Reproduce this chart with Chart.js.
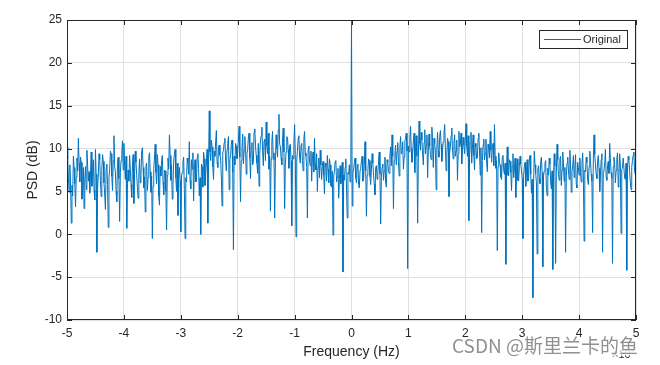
<!DOCTYPE html>
<html><head><meta charset="utf-8">
<script src="https://cdn.jsdelivr.net/npm/chart.js@4.4.1/dist/chart.umd.min.js"></script>
<style>html,body{margin:0;padding:0;background:#fff}canvas{display:block}</style>
</head><body>
<canvas id="c" width="660" height="365"></canvas>
<script>
// Frequency axis (units of 10^4 Hz), sample spacing of the PSD estimate
const freqStart = -5;
const freqStep = 0.0125;
const xTickValues = [-5, -4, -3, -2, -1, 0, 1, 2, 3, 4, 5];
const yTickValues = [-10, -5, 0, 5, 10, 15, 20, 25];
const seriesLabel = 'Original';
const xTitle = 'Frequency (Hz)';
const yTitle = 'PSD (dB)';
const xExponent = '4';
const watermark = 'CSDN @斯里兰卡的鱼';

// PSD values (dB), one band per unit of frequency
const psdBandM5 = [10.2,8.8,6.5,4.9,8.1,6.0,1.3,5.7,4.5,9.1,7.8,5.9,3.2,6.7,8.9,7.4,11.2,8.3,6.1,9.0,
  8.4,4.1,5.5,7.8,3.0,6.4,7.9,5.2,9.8,8.0,6.2,7.3,4.8,6.9,9.6,5.6,7.1,8.7,5.2,4.0,
  9.9,7.0,-2.1,5.3,6.8,9.4,8.7,6.3,4.4,7.6,9.3,8.5,6.0,4.7,2.9,7.7,8.2,5.8,0.8,6.6,
  7.6,9.7,9.4,6.8,5.1,8.6,11.5,7.9,7.3,5.0,3.8,8.4,9.0,6.5,1.5,7.2,8.6,9.3,10.9,7.5];
const psdBandM4 = [10.6,8.2,6.4,9.1,0.7,5.9,7.5,6.2,9.2,7.7,5.8,4.3,8.0,9.3,3.6,7.0,9.7,8.4,6.9,5.5,
  4.2,7.1,8.8,6.0,7.0,9.6,10.1,7.8,5.4,6.7,2.6,8.0,8.3,5.1,6.6,9.0,9.5,7.3,4.9,6.8,
  -0.5,5.6,7.7,8.9,10.5,7.2,5.9,9.3,8.1,4.5,3.4,7.9,6.8,8.6,9.2,6.1,4.6,7.5,7.4,5.0,
  0.5,6.9,8.9,7.6,11.6,9.2,6.3,8.1,4.1,5.7,8.5,9.4,9.9,6.6,5.0,8.3,2.2,7.0,7.8,6.3];
const psdBandM3 = [0.3,6.8,7.2,8.5,9.0,5.2,-0.5,6.6,6.1,8.9,8.4,7.0,10.8,6.3,5.3,8.7,7.6,9.5,3.9,7.4,
  8.7,6.1,6.2,9.0,9.4,7.7,4.5,6.6,0.0,8.2,7.9,5.5,9.6,8.8,5.7,7.3,8.3,9.9,1.3,8.0,
  14.4,9.6,8.6,11.0,10.2,7.9,6.4,9.7,9.1,10.8,12.1,8.4,7.8,10.1,10.4,9.2,8.9,6.8,3.3,9.5,
  9.8,10.7,11.2,8.5,7.4,9.9,10.6,11.4,5.2,8.7,9.3,10.5,11.0,7.2,-1.8,9.1,8.1,10.6,10.3,8.8];
const psdBandM2 = [9.5,11.1,12.6,9.0,3.8,8.6,10.1,11.7,8.2,9.8,11.4,10.0,7.0,9.4,9.9,11.3,11.8,8.9,6.5,10.2,
  10.7,8.1,8.4,11.9,12.3,10.4,9.2,8.3,7.1,10.6,5.6,9.3,10.9,11.5,12.5,9.7,8.0,10.9,11.1,8.6,
  13.1,10.3,9.4,11.8,7.6,9.1,2.7,8.8,10.8,12.0,8.7,9.5,1.9,8.4,11.6,10.1,9.0,12.2,14.0,10.5,
  10.2,8.9,8.1,11.0,12.4,9.6,3.0,8.2,9.6,11.4,11.3,9.9,7.7,10.3,10.5,8.6,1.0,9.2,8.8,10.7];
const psdBandM1 = [12.8,9.3,-0.3,8.7,9.7,11.2,11.5,9.0,8.3,10.4,10.6,8.6,7.4,11.1,12.0,9.5,9.1,7.8,1.9,9.9,
  10.3,8.4,8.0,9.7,6.2,8.8,9.6,7.3,11.2,8.2,7.5,9.4,5.0,7.8,8.9,6.6,9.8,8.1,6.4,7.9,
  8.5,6.9,4.7,8.3,7.9,6.2,9.2,7.6,6.0,8.8,8.1,5.7,5.5,7.4,-0.1,6.8,7.3,8.5,8.6,6.1,
  6.7,7.7,4.2,6.5,8.0,5.9,7.1,8.4,-4.4,6.9,6.3,7.8,8.8,5.4,1.9,7.2,7.0,8.1,6.1,7.5];
const psdDC = [25];
const psdBandP0 = [3.3,7.1,7.6,8.4,8.9,6.6,6.0,7.9,8.2,5.8,5.4,7.5,7.7,8.6,9.1,6.2,6.5,8.0,10.8,7.4,
  2.1,6.9,7.3,8.8,8.6,6.7,5.8,7.6,9.4,8.3,6.9,5.9,4.6,7.8,8.0,6.4,7.2,8.5,9.6,7.0,
  1.2,6.6,7.8,8.2,6.3,7.4,9.0,6.1,5.5,8.7,8.4,7.3,7.1,9.2,10.2,8.0,11.6,9.1,3.0,8.6,
  9.3,10.4,8.1,9.6,10.7,8.5,6.8,10.1,11.4,9.4,9.5,10.8,7.6,9.0,10.9,11.2,11.8,9.7,-4.0,10.3];
const psdBandP1 = [9.6,11.3,12.6,10.0,8.4,9.5,10.9,11.8,7.2,10.2,11.5,9.1,1.3,8.9,13.2,10.6,9.8,11.9,11.0,9.3,
  8.1,10.7,12.2,9.4,10.4,11.6,6.6,9.8,11.7,10.3,9.3,8.7,12.5,10.9,7.8,11.2,10.6,9.5,5.2,10.0,
  11.9,9.7,9.0,11.4,12.1,10.5,8.5,9.9,10.8,11.7,12.8,10.1,7.4,9.2,11.2,10.8,4.4,9.6,10.1,11.5,
  12.4,9.8,8.8,10.6,11.6,9.1,9.7,11.0,6.3,9.4,12.0,10.2,10.5,11.8,8.2,9.9,11.3,10.4,9.4,11.1];
const psdBandP2 = [12.9,10.3,9.1,11.5,1.6,9.0,10.7,11.9,8.3,10.0,11.6,9.2,7.5,10.6,10.2,8.8,9.0,11.2,11.8,9.6,
  6.9,10.1,0.2,8.6,10.4,11.1,8.7,9.4,11.1,8.3,7.3,10.5,9.9,8.9,12.0,9.8,8.4,10.2,10.6,8.0,
  12.8,9.1,7.7,8.6,-1.9,7.9,9.5,8.4,8.1,6.7,6.4,9.0,9.2,7.5,7.0,8.3,-3.5,7.8,10.2,6.9,
  6.8,8.7,8.5,7.2,5.1,8.0,9.4,6.6,7.6,8.9,4.3,7.1,8.8,6.3,6.2,7.9,9.1,8.2,7.4,6.5];
const psdBandP3 = [-0.5,6.9,7.9,8.4,5.6,7.3,8.7,6.2,6.3,8.8,9.2,7.0,4.8,6.4,-7.4,5.9,9.7,8.1,7.1,6.0,
  -2.3,7.6,8.0,6.5,5.9,8.5,9.0,7.2,-3.8,6.8,7.4,8.3,8.6,5.5,4.5,7.7,6.9,8.9,8.2,6.1,
  5.3,7.4,-4.1,6.6,9.4,8.0,-3.4,7.1,10.5,8.7,7.0,6.3,8.8,9.1,5.7,7.5,9.6,8.2,6.2,7.8,
  -2.1,6.7,8.3,9.0,7.5,6.4,9.8,8.1,4.9,7.3,8.0,9.2,6.6,7.7,9.3,5.8,5.4,8.4,7.8,6.9];
const psdBandP4 = [8.9,7.2,6.1,8.3,9.5,6.8,-0.8,7.5,7.3,9.0,8.4,6.4,5.8,7.9,9.7,8.6,7.0,6.2,0.2,8.8,
  11.6,9.3,8.1,7.0,6.5,8.5,9.2,7.7,5.0,6.9,8.7,9.4,-2.1,7.3,7.6,8.2,9.9,6.7,6.3,8.0,
  8.5,7.1,10.6,8.8,7.2,6.5,-3.4,7.9,9.0,8.4,6.0,7.4,8.8,9.5,5.5,6.8,9.4,8.1,0.1,7.6,
  7.7,8.9,8.9,6.6,6.4,8.3,-4.2,7.5,9.1,8.7,7.3,6.1,5.2,7.8,8.6,9.2,9.6,7.4,7.0,9.3];

const psdValues = [].concat(psdBandM5, psdBandM4, psdBandM3, psdBandM2, psdBandM1,
  psdDC, psdBandP0, psdBandP1, psdBandP2, psdBandP3, psdBandP4);
const points = psdValues.map((v, i) => ({x: +(freqStart + i * freqStep).toFixed(5), y: v}));

const FONT = '"Liberation Sans", Arial, Helvetica, sans-serif';
const AXC = '#262626';
const LINE = '#0072BD';

const matlabAxes = {
  id: 'matlabAxes',
  afterDatasetsDraw(chart) {
    const {ctx, chartArea: a, scales: {x, y}} = chart;
    ctx.save();
    ctx.strokeStyle = AXC;
    ctx.lineWidth = 1;
    ctx.strokeRect(Math.round(a.left) + 0.5, Math.round(a.top) + 0.5,
      Math.round(a.right - a.left) - 1, Math.round(a.bottom - a.top) - 1);
    const tl = 5;
    ctx.beginPath();
    xTickValues.forEach(v => {
      const px = Math.round(x.getPixelForValue(v)) + 0.5;
      ctx.moveTo(px, a.bottom); ctx.lineTo(px, a.bottom - tl);
      ctx.moveTo(px, a.top); ctx.lineTo(px, a.top + tl);
    });
    yTickValues.forEach(v => {
      const py = Math.round(y.getPixelForValue(v)) + 0.5;
      ctx.moveTo(a.left, py); ctx.lineTo(a.left + tl, py);
      ctx.moveTo(a.right, py); ctx.lineTo(a.right - tl, py);
    });
    ctx.stroke();
    ctx.restore();
  },
  afterDraw(chart) {
    const {ctx} = chart;
    const ds = chart.data.datasets[0];
    ctx.save();
    // legend
    const bx = 539.5, by = 30.5, bw = 88, bh = 18;
    ctx.fillStyle = '#fff';
    ctx.fillRect(bx, by, bw, bh);
    ctx.strokeStyle = AXC; ctx.lineWidth = 1;
    ctx.strokeRect(bx, by, bw, bh);
    ctx.strokeStyle = ds.borderColor; ctx.lineWidth = 1;
    ctx.beginPath(); ctx.moveTo(544, 39.5); ctx.lineTo(581, 39.5); ctx.stroke();
    ctx.fillStyle = AXC;
    ctx.font = '11px ' + FONT;
    ctx.textBaseline = 'middle'; ctx.textAlign = 'left';
    ctx.fillText(ds.label, 583, 40);
    // exponent label
    ctx.font = '11px ' + FONT;
    ctx.textBaseline = 'alphabetic';
    ctx.fillText('\u00d710', 612, 358);
    ctx.font = '8px ' + FONT;
    ctx.fillText(xExponent, 630, 352);
    // watermark
    ctx.font = '19px "Noto Sans CJK SC", "Liberation Sans", sans-serif';
    ctx.textBaseline = 'middle';
    ctx.lineWidth = 3; ctx.strokeStyle = 'rgba(255,255,255,0.85)';
    ctx.strokeText(watermark, 452, 346);
    ctx.fillStyle = 'rgba(125,125,125,0.85)';
    ctx.fillText(watermark, 452, 346);
    ctx.restore();
  }
};

new Chart(document.getElementById('c'), {
  type: 'line',
  data: {datasets: [{label: seriesLabel, data: points, borderColor: LINE, borderWidth: 1,
    pointRadius: 0, tension: 0, fill: false}]},
  options: {
    responsive: false, animation: false, devicePixelRatio: 1,
    parsing: false, normalized: true,
    layout: {padding: {left: 0, right: 24, top: 20, bottom: 0}},
    plugins: {legend: {display: false}, tooltip: {enabled: false}},
    scales: {
      x: {type: 'linear', min: -5, max: 5,
        afterBuildTicks: s => { s.ticks = xTickValues.map(v => ({value: v})); },
        afterFit: s => { s.height = 45; },
        ticks: {color: AXC, font: {family: FONT, size: 12}, padding: 6, maxRotation: 0,
          callback: v => String(v)},
        grid: {color: '#dfdfdf', drawTicks: false},
        border: {display: false},
        title: {display: true, text: xTitle, color: AXC, font: {family: FONT, size: 14},
          padding: {top: 0, bottom: 4}}
      },
      y: {type: 'linear', min: -10, max: 25,
        afterBuildTicks: s => { s.ticks = yTickValues.map(v => ({value: v})); },
        afterFit: s => { s.width = 67; },
        ticks: {color: AXC, font: {family: FONT, size: 12}, padding: 5,
          callback: v => String(v)},
        grid: {color: '#dfdfdf', drawTicks: false},
        border: {display: false},
        title: {display: true, text: yTitle, color: AXC, font: {family: FONT, size: 14},
          padding: {top: 25, bottom: 0}}
      }
    }
  },
  plugins: [matlabAxes]
});
</script>
</body></html>
